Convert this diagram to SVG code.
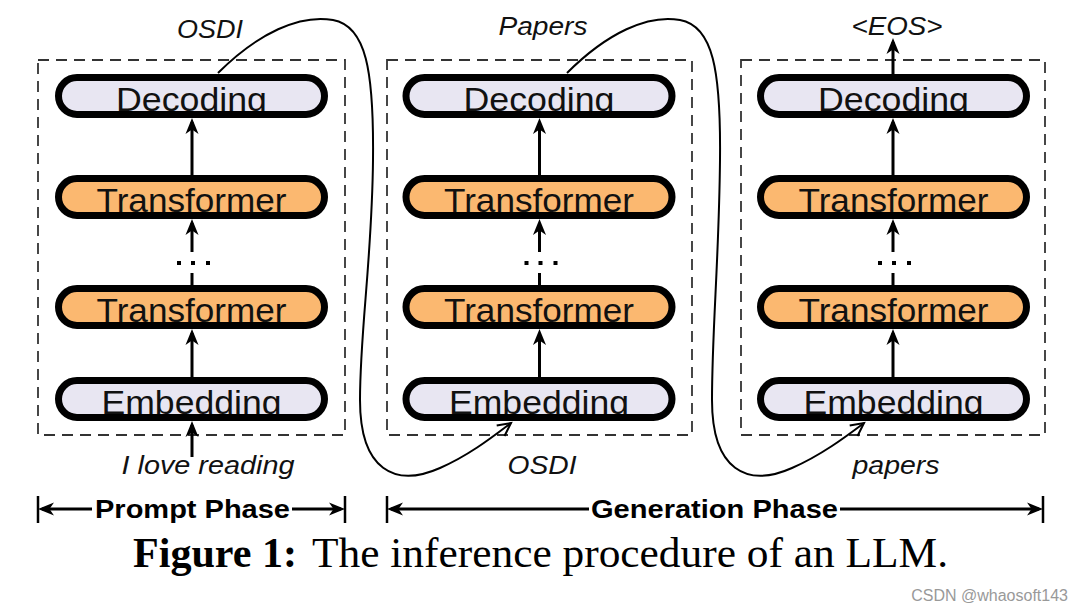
<svg xmlns="http://www.w3.org/2000/svg" width="1080" height="611" viewBox="0 0 1080 611">
<style>
.box{fill:none;stroke:#333;stroke-width:1.8;stroke-dasharray:11 7}
.lav{fill:#e8e6f2}
.org{fill:#fbb870}
.outl{fill:none;stroke:#000;stroke-width:7}
.nt{font-family:"Liberation Sans",Arial,Helvetica,sans-serif;font-size:33px;fill:#111;text-anchor:middle}
.lbl{font-family:"Liberation Sans",Arial,Helvetica,sans-serif;font-size:26px;font-style:italic;fill:#111;text-anchor:middle}
.ph{font-family:"Liberation Sans",Arial,Helvetica,sans-serif;font-size:25px;font-weight:bold;fill:#000;text-anchor:middle}
.ar{fill:none;stroke:#000;stroke-width:3}
.cv{fill:none;stroke:#000;stroke-width:2}
.tick{stroke:#000;stroke-width:2.5}
.cap{font-family:"Liberation Serif","Times New Roman",serif;font-size:42px;fill:#000}
</style>
<defs>
<marker id="ah" markerUnits="userSpaceOnUse" markerWidth="16" markerHeight="14" viewBox="0 0 16 14" refX="12" refY="7" orient="auto">
<path d="M0,0.5 L16,7 L0,13.5 L4.5,7 z" fill="#000"/>
</marker>
<marker id="ov" markerUnits="userSpaceOnUse" markerWidth="18" markerHeight="18" viewBox="-2 -2 18 18" refX="13" refY="7" orient="auto">
<path d="M0,0.5 L13,7 L0,13.5" fill="none" stroke="#000" stroke-width="2"/>
</marker>
</defs>
<rect width="1080" height="611" fill="#fff"/>

<g id="frames">
<rect class="box" x="38" y="60" width="307" height="375"/>
<rect class="box" x="387" y="60" width="305" height="375"/>
<rect class="box" x="741" y="60" width="304" height="375"/>
</g>

<g id="col1-decoding"><rect class="lav" x="58.5" y="77.5" width="266" height="37" rx="18.5"/><text class="nt" x="191.5" y="111" textLength="151" lengthAdjust="spacingAndGlyphs">Decoding</text><rect class="outl" x="58.5" y="77.5" width="266" height="37" rx="18.5"/></g>
<g id="col1-transformer1"><rect class="org" x="58.5" y="178.5" width="266" height="37" rx="18.5"/><text class="nt" x="191.5" y="212" textLength="190" lengthAdjust="spacingAndGlyphs">Transformer</text><rect class="outl" x="58.5" y="178.5" width="266" height="37" rx="18.5"/></g>
<g id="col1-transformer2"><rect class="org" x="58.5" y="288.5" width="266" height="37" rx="18.5"/><text class="nt" x="191.5" y="322" textLength="190" lengthAdjust="spacingAndGlyphs">Transformer</text><rect class="outl" x="58.5" y="288.5" width="266" height="37" rx="18.5"/></g>
<g id="col1-embedding"><rect class="lav" x="58.5" y="380.5" width="266" height="37" rx="18.5"/><text class="nt" x="191.5" y="414" textLength="180" lengthAdjust="spacingAndGlyphs">Embedding</text><rect class="outl" x="58.5" y="380.5" width="266" height="37" rx="18.5"/></g>

<g id="col2-decoding"><rect class="lav" x="406" y="77.5" width="266" height="37" rx="18.5"/><text class="nt" x="539" y="111" textLength="151" lengthAdjust="spacingAndGlyphs">Decoding</text><rect class="outl" x="406" y="77.5" width="266" height="37" rx="18.5"/></g>
<g id="col2-transformer1"><rect class="org" x="406" y="178.5" width="266" height="37" rx="18.5"/><text class="nt" x="539" y="212" textLength="190" lengthAdjust="spacingAndGlyphs">Transformer</text><rect class="outl" x="406" y="178.5" width="266" height="37" rx="18.5"/></g>
<g id="col2-transformer2"><rect class="org" x="406" y="288.5" width="266" height="37" rx="18.5"/><text class="nt" x="539" y="322" textLength="190" lengthAdjust="spacingAndGlyphs">Transformer</text><rect class="outl" x="406" y="288.5" width="266" height="37" rx="18.5"/></g>
<g id="col2-embedding"><rect class="lav" x="406" y="380.5" width="266" height="37" rx="18.5"/><text class="nt" x="539" y="414" textLength="180" lengthAdjust="spacingAndGlyphs">Embedding</text><rect class="outl" x="406" y="380.5" width="266" height="37" rx="18.5"/></g>

<g id="col3-decoding"><rect class="lav" x="760.5" y="77.5" width="266" height="37" rx="18.5"/><text class="nt" x="893.5" y="111" textLength="151" lengthAdjust="spacingAndGlyphs">Decoding</text><rect class="outl" x="760.5" y="77.5" width="266" height="37" rx="18.5"/></g>
<g id="col3-transformer1"><rect class="org" x="760.5" y="178.5" width="266" height="37" rx="18.5"/><text class="nt" x="893.5" y="212" textLength="190" lengthAdjust="spacingAndGlyphs">Transformer</text><rect class="outl" x="760.5" y="178.5" width="266" height="37" rx="18.5"/></g>
<g id="col3-transformer2"><rect class="org" x="760.5" y="288.5" width="266" height="37" rx="18.5"/><text class="nt" x="893.5" y="322" textLength="190" lengthAdjust="spacingAndGlyphs">Transformer</text><rect class="outl" x="760.5" y="288.5" width="266" height="37" rx="18.5"/></g>
<g id="col3-embedding"><rect class="lav" x="760.5" y="380.5" width="266" height="37" rx="18.5"/><text class="nt" x="893.5" y="414" textLength="180" lengthAdjust="spacingAndGlyphs">Embedding</text><rect class="outl" x="760.5" y="380.5" width="266" height="37" rx="18.5"/></g>

<g id="connectors">
<line class="ar" x1="192" y1="377" x2="192" y2="333" marker-end="url(#ah)"/>
<line class="ar" x1="192" y1="285" x2="192" y2="273"/>
<line class="ar" x1="192" y1="252" x2="192" y2="223" marker-end="url(#ah)"/>
<line class="ar" x1="192" y1="175" x2="192" y2="122" marker-end="url(#ah)"/>
<line class="ar" x1="192" y1="457" x2="192" y2="425" marker-end="url(#ah)"/>
<line class="ar" x1="539.5" y1="377" x2="539.5" y2="333" marker-end="url(#ah)"/>
<line class="ar" x1="539.5" y1="285" x2="539.5" y2="273"/>
<line class="ar" x1="539.5" y1="252" x2="539.5" y2="223" marker-end="url(#ah)"/>
<line class="ar" x1="539.5" y1="175" x2="539.5" y2="122" marker-end="url(#ah)"/>
<line class="ar" x1="893" y1="377" x2="893" y2="333" marker-end="url(#ah)"/>
<line class="ar" x1="893" y1="285" x2="893" y2="273"/>
<line class="ar" x1="893" y1="252" x2="893" y2="223" marker-end="url(#ah)"/>
<line class="ar" x1="893" y1="175" x2="893" y2="122" marker-end="url(#ah)"/>
<line class="ar" x1="893" y1="74" x2="893" y2="42" marker-end="url(#ah)"/>
<path class="cv" d="M218,73 C258,33 300,14 333,20 C366,26 374,70 373,160 C372,260 360,330 360,400 C360,470 395,488 440,468 C470,455 495,435 511,423" marker-end="url(#ov)"/>
<path class="cv" d="M567,73 C607,33 648,14 680,20 C713,26 721,70 720,160 C719,260 712,330 712,400 C712,470 747,488 792,468 C822,455 848,435 864,423" marker-end="url(#ov)"/>
<line class="tick" x1="38" y1="496" x2="38" y2="523"/>
<line class="tick" x1="345" y1="496" x2="345" y2="523"/>
<line class="ar" x1="92" y1="509" x2="42" y2="509" marker-end="url(#ah)"/>
<line class="ar" x1="292" y1="509" x2="341" y2="509" marker-end="url(#ah)"/>
<line class="tick" x1="387" y1="496" x2="387" y2="523"/>
<line class="tick" x1="1043" y1="496" x2="1043" y2="523"/>
<line class="ar" x1="589" y1="509" x2="391" y2="509" marker-end="url(#ah)"/>
<line class="ar" x1="840" y1="509" x2="1039" y2="509" marker-end="url(#ah)"/>
</g>

<g id="dots" fill="#000">
<rect x="177" y="261" width="4" height="4"/><rect x="191" y="261" width="4" height="4"/><rect x="206" y="261" width="4" height="4"/>
<rect x="524.5" y="261" width="4" height="4"/><rect x="538.5" y="261" width="4" height="4"/><rect x="553.5" y="261" width="4" height="4"/>
<rect x="878" y="261" width="4" height="4"/><rect x="892" y="261" width="4" height="4"/><rect x="907" y="261" width="4" height="4"/>
</g>

<g id="labels">
<text class="lbl" x="210" y="38" textLength="66" lengthAdjust="spacingAndGlyphs">OSDI</text>
<text class="lbl" x="543" y="35" textLength="89" lengthAdjust="spacingAndGlyphs">Papers</text>
<text class="lbl" x="897" y="35" textLength="91" lengthAdjust="spacingAndGlyphs">&lt;EOS&gt;</text>
<text class="lbl" x="208" y="474" textLength="173" lengthAdjust="spacingAndGlyphs">I love reading</text>
<text class="lbl" x="542" y="474" textLength="69" lengthAdjust="spacingAndGlyphs">OSDI</text>
<text class="lbl" x="896" y="474" textLength="87" lengthAdjust="spacingAndGlyphs">papers</text>
<text class="ph" x="192.5" y="518" textLength="195" lengthAdjust="spacingAndGlyphs">Prompt Phase</text>
<text class="ph" x="714.5" y="518" textLength="247" lengthAdjust="spacingAndGlyphs">Generation Phase</text>
</g>

<g id="caption">
<text class="cap" x="133" y="567" font-weight="bold" textLength="164" lengthAdjust="spacingAndGlyphs">Figure 1:</text>
<text class="cap" x="312" y="567" textLength="636" lengthAdjust="spacingAndGlyphs">The inference procedure of an LLM.</text>
</g>
<text x="1068" y="601" text-anchor="end" font-family="'Liberation Sans',Arial,sans-serif" font-size="16" fill="#999">CSDN @whaosoft143</text>
</svg>
